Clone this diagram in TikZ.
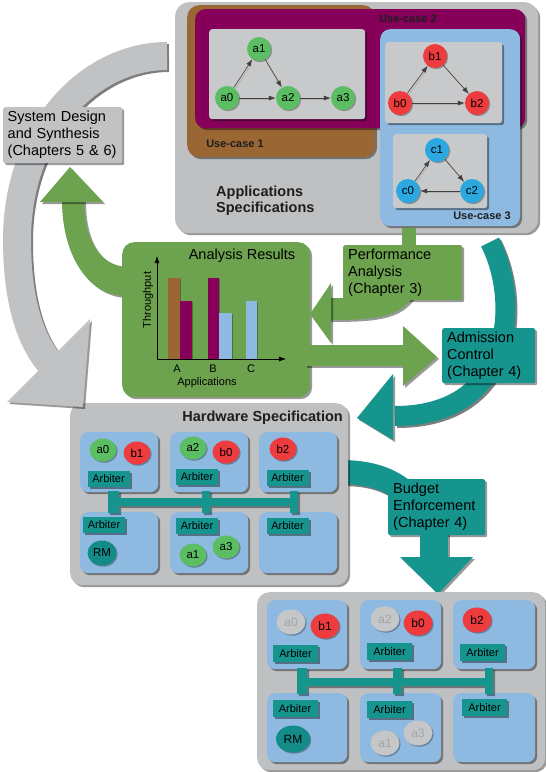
\documentclass[tikz,border=0pt]{standalone}
\usepackage{fontspec}
\setmainfont{Liberation Sans}
\usetikzlibrary{arrows.meta,shadows,shapes.geometric}
\definecolor{appgray}{HTML}{BEC0C2}
\definecolor{innergray}{HTML}{C7C9CB}
\definecolor{shgray}{HTML}{7C7E80}
\definecolor{ucbrown}{HTML}{9A6634}
\definecolor{ucpurple}{HTML}{86005A}
\definecolor{ucblue}{HTML}{8EBAE2}
\definecolor{nodegreen}{HTML}{5CBE62}
\definecolor{nodered}{HTML}{EE3B3E}
\definecolor{nodecyan}{HTML}{2AA8DF}
\definecolor{boxgreen}{HTML}{6DA34E}
\definecolor{boxteal}{HTML}{16958F}
\definecolor{rmteal}{HTML}{138C88}
\definecolor{arcgray}{HTML}{C0C2C4}
\definecolor{nodegrey}{HTML}{C4C6C8}
\definecolor{greytext}{HTML}{A3A5A7}
\definecolor{labtext}{HTML}{1E1E1E}
\newcommand{\gedge}[2]{\draw[edgesh] (#1) -- (#2); \draw[edge] (#1) -- (#2);}
\begin{document}
\begin{tikzpicture}[x=1pt,y=-1pt,
  shd/.style={drop shadow={shadow xshift=2pt,shadow yshift=-2pt,fill=black,opacity=0.4}},
  lshd/.style={drop shadow={shadow xshift=1.2pt,shadow yshift=-1.2pt,fill=black,opacity=0.3}},
  cont/.style={shd, anchor=north west, inner sep=0pt},
  tbox/.style={shd, anchor=north west, inner xsep=5pt, inner ysep=2pt, align=left,
    rounded corners=2pt, font=\fontsize{14.5}{17}\selectfont, text=black},
  gnode/.style={circle, minimum size=24pt, inner sep=0pt, lshd,
    font=\fontsize{11.5}{12}\selectfont},
  hnode/.style={ellipse, minimum width=27pt, minimum height=23pt, inner sep=0pt, lshd,
    font=\fontsize{11.5}{12}\selectfont},
  lnode/.style={ellipse, minimum width=29pt, minimum height=25pt, inner sep=0pt, lshd,
    font=\fontsize{12}{13}\selectfont},
  tile/.style={fill=ucblue, rounded corners=8pt, cont},
  arb/.style={fill=boxteal, minimum width=42pt, minimum height=16pt, inner sep=0pt,
    font=\fontsize{11}{12}\selectfont, shd},
  larb/.style={arb, minimum width=45pt, minimum height=16.5pt},
  uclab/.style={font=\fontsize{11}{12}\selectfont\bfseries, text=labtext},
  chartlab/.style={font=\fontsize{11}{12}\selectfont, inner sep=0pt},
  edge/.style={draw=black!75, line width=0.6pt, -{Latex[length=7pt,width=5pt]}},
  edgesh/.style={draw=black!30, line width=0.8pt, shorten >=3pt,
    transform canvas={shift={(1.4,1.4)}}},
  axis/.style={draw=black, line width=0.6pt, -{Latex[length=7pt,width=5pt]}}
]
\useasboundingbox (0,0) rectangle (546,772);
\fill[white] (0,0) rectangle (546,772);

% ---------------- teal arc (admission control loop)
\draw[line width=20, draw=shgray, transform canvas={shift={(2,2)}}]
  (490,242) .. controls (520,300) and (515,416) .. (395,416);
\draw[line width=20, draw=boxteal]
  (490,242) .. controls (520,300) and (515,416) .. (395,416);
\fill[boxteal, shd] (393,374) -- (357,418) -- (393,440) -- cycle;

% ---------------- applications specification
\node[cont, fill=appgray, rounded corners=14pt, minimum width=363, minimum height=231] (apps) at (175,2) {};
\node[cont, fill=ucbrown, rounded corners=12pt, minimum width=188, minimum height=152] (uc1) at (187,5) {};
\node[cont, fill=ucpurple, rounded corners=10pt, minimum width=330, minimum height=119] (uc2) at (195,9) {};
\node[cont, fill=ucblue, rounded corners=10pt, minimum width=140, minimum height=197] (uc3) at (380,29) {};
\node[cont, fill=innergray, rounded corners=3pt, minimum width=156, minimum height=90] (ga) at (209,29) {};
\node[cont, fill=innergray, rounded corners=3pt, minimum width=117, minimum height=81] (gb) at (385,42) {};
\node[cont, fill=innergray, rounded corners=3pt, minimum width=94, minimum height=74] (gc) at (393,134) {};
\node[uclab] (uc2lab) at (408,19) {Use-case 2};
\node[uclab] (uc1lab) at (235,144) {Use-case 1};
\node[uclab] (uc3lab) at (482,216) {Use-case 3};
\node[anchor=west, align=left, inner sep=0pt, font=\fontsize{14.5}{16}\selectfont\bfseries, text=labtext]
  (appslab) at (216,201) {Applications\\Specifications};

\node[gnode, fill=nodegreen] (a1) at (259,49) {a1};
\node[gnode, fill=nodegreen] (a0) at (227,98) {a0};
\node[gnode, fill=nodegreen] (a2) at (288,98) {a2};
\node[gnode, fill=nodegreen] (a3) at (343,98) {a3};
\node[gnode, fill=nodered] (b1) at (435,56) {b1};
\node[gnode, fill=nodered] (b0) at (400,103) {b0};
\node[gnode, fill=nodered] (b2) at (477,103) {b2};
\node[gnode, fill=nodecyan] (c1) at (437,150) {c1};
\node[gnode, fill=nodecyan] (c0) at (408,191) {c0};
\node[gnode, fill=nodecyan] (c2) at (472,191) {c2};
\gedge{a0}{a1}
\gedge{a1}{a2}
\gedge{a0}{a2}
\gedge{a2}{a3}
\gedge{b0}{b1}
\gedge{b1}{b2}
\gedge{b0}{b2}
\gedge{c0}{c1}
\gedge{c1}{c2}
\gedge{c2}{c0}

% ---------------- green arrow up to system design
\fill[boxgreen, shd] (62,200) .. controls (62,255) and (88,296) .. (126,296)
  -- (126,267) .. controls (100,265) and (84,240) .. (84,200) -- cycle;
\fill[boxgreen, shd] (40,202) -- (70,167) -- (103,202) -- cycle;

% ---------------- analysis results
\node[cont, fill=boxgreen, rounded corners=12pt, minimum width=188, minimum height=155] (anres) at (122,242) {};
\node[font=\fontsize{14.5}{17}\selectfont, inner sep=0pt] (antitle) at (242,256) {Analysis Results};
\fill[ucbrown, lshd] (168,278) rectangle (180,359);
\fill[ucpurple, lshd] (180,301) rectangle (192,359);
\fill[ucpurple, lshd] (208,278) rectangle (219,359);
\fill[ucblue, lshd] (219,313) rectangle (232,359);
\fill[ucblue, lshd] (246,301) rectangle (257,359);
\coordinate (org) at (157,359);
\coordinate (ytip) at (157,256);
\coordinate (xtip) at (286,359);
\draw[axis] (org) -- (ytip);
\draw[axis] (org) -- (xtip);
\node[chartlab] (labA) at (177,369) {A};
\node[chartlab] (labB) at (213,369) {B};
\node[chartlab] (labC) at (251,369) {C};
\node[chartlab] (labApp) at (207,383) {Applications};
\node[chartlab, rotate=90] (labThr) at (148,300) {Throughput};

% ---------------- performance analysis
\fill[boxgreen] (402,228) rectangle (416,250);
\node[tbox, fill=boxgreen, minimum width=119, minimum height=55, text width=109] (perf) at (343,245)
  {Performance\\Analysis\\(Chapter 3)};
\fill[boxgreen, shd] (328,298) -- (412,298) .. controls (398,318) and (372,320) .. (328,320) -- cycle;
\fill[boxgreen, shd] (331,283) -- (310,314) -- (331,343) -- cycle;

% ---------------- green arrow to admission control
\fill[boxgreen, shd] (305,345) rectangle (405,366);
\fill[boxgreen, shd] (403,326) -- (437,357) -- (403,386) -- cycle;
\node[tbox, fill=boxteal, minimum width=93, minimum height=55, text width=83] (adm) at (442,328)
  {Admission\\Control\\(Chapter 4)};

% ---------------- teal band to budget enforcement
\draw[line width=24, draw=shgray, transform canvas={shift={(2,2)}}]
  (340,472) .. controls (368,472) and (388,478) .. (405,492);
\draw[line width=24, draw=boxteal]
  (340,472) .. controls (368,472) and (388,478) .. (405,492);

% ---------------- hardware specification
\node[cont, fill=appgray, rounded corners=12pt, minimum width=278, minimum height=182] (hw) at (70,403) {};
\node[anchor=east, inner sep=0pt, font=\fontsize{14.5}{17}\selectfont\bfseries, text=labtext] (hwlab) at (343,418) {Hardware Specification};
\node[tile, minimum width=78, minimum height=60] (ht11) at (80,432) {};
\node[tile, minimum width=78, minimum height=60] (ht12) at (170,432) {};
\node[tile, minimum width=78, minimum height=60] (ht13) at (259,432) {};
\node[tile, minimum width=78, minimum height=61] (ht21) at (80,512) {};
\node[tile, minimum width=78, minimum height=61] (ht22) at (170,512) {};
\node[tile, minimum width=78, minimum height=61] (ht23) at (259,512) {};
\fill[boxteal, shd] (108,491) rectangle (119,513) (202,491) rectangle (210,513)
  (290,491) rectangle (298,513) (110,498) rectangle (298,506);
\node[hnode, fill=nodegreen] (hwa0) at (103,450) {a0};
\node[hnode, fill=nodered] (hwb1) at (137,453) {b1};
\node[hnode, fill=nodegreen] (hwa2) at (193,448) {a2};
\node[hnode, fill=nodered] (hwb0) at (226,452) {b0};
\node[hnode, fill=nodered] (hwb2) at (283,449) {b2};
\node[hnode, fill=rmteal, minimum width=29pt, minimum height=25pt] (hwrm) at (102,553) {RM};
\node[hnode, fill=nodegreen] (hwa3) at (226,547) {a3};
\node[hnode, fill=nodegreen] (hwa1) at (193,555) {a1};
\node[arb] (harb11) at (108.5,479) {Arbiter};
\node[arb] (harb12) at (197,476.5) {Arbiter};
\node[arb] (harb13) at (287.5,477.5) {Arbiter};
\node[arb] (harb21) at (104,525) {Arbiter};
\node[arb] (harb22) at (197,526) {Arbiter};
\node[arb] (harb23) at (287.5,525.5) {Arbiter};

% ---------------- gray arc (system design loop)
\draw[line width=28, draw=shgray, transform canvas={shift={(2,2)}}]
  (167,56) .. controls (90,56) and (17,130) .. (17,240) .. controls (17,300) and (30,340) .. (50,363);
\draw[line width=28, draw=arcgray]
  (167,56) .. controls (90,56) and (17,130) .. (17,240) .. controls (17,300) and (30,340) .. (50,363);
\fill[arcgray, shd] (90,319) -- (83,407) -- (7,402) -- cycle;
\node[tbox, fill=arcgray, minimum width=119, minimum height=56, text width=110, inner xsep=4.5pt] (sds) at (3,107)
  {System Design\\and Synthesis\\(Chapters 5 \& 6)};

% ---------------- budget enforcement
\node[tbox, fill=boxteal, minimum width=97, minimum height=56, text width=87] (budget) at (388,479)
  {Budget\\Enforcement\\(Chapter 4)};
\fill[boxteal, shd] (420,533) rectangle (448,559);
\fill[boxteal, shd] (400,557) -- (438,594) -- (473,557) -- cycle;

% ---------------- enforced hardware
\node[cont, fill=appgray, rounded corners=12pt, minimum width=288, minimum height=178] (lw) at (257,592) {};
\node[tile, minimum width=80, minimum height=69] (lt11) at (267,600) {};
\node[tile, minimum width=81, minimum height=69] (lt12) at (360,600) {};
\node[tile, minimum width=82, minimum height=69] (lt13) at (453,600) {};
\node[tile, minimum width=80, minimum height=69] (lt21) at (267,693) {};
\node[tile, minimum width=81, minimum height=69] (lt22) at (360,693) {};
\node[tile, minimum width=82, minimum height=69] (lt23) at (453,693) {};
\fill[boxteal, shd] (297,668) rectangle (307,694) (393,668) rectangle (402,694)
  (485,668) rectangle (493,694) (297,678) rectangle (493,686);
\node[lnode, fill=nodegrey, text=greytext] (lwa0) at (291,622) {a0};
\node[lnode, fill=nodered] (lwb1) at (325,626) {b1};
\node[lnode, fill=nodegrey, text=greytext] (lwa2) at (385,619) {a2};
\node[lnode, fill=nodered] (lwb0) at (418,623) {b0};
\node[lnode, fill=nodered] (lwb2) at (477,620) {b2};
\node[lnode, fill=rmteal, minimum width=34pt, minimum height=27pt] (lwrm) at (293,739) {RM};
\node[lnode, fill=nodegrey, text=greytext] (lwa3) at (418,733) {a3};
\node[lnode, fill=nodegrey, text=greytext] (lwa1) at (385,743) {a1};
\node[larb] (larb11) at (295.5,653.5) {Arbiter};
\node[larb] (larb12) at (389.5,651.5) {Arbiter};
\node[larb] (larb13) at (482.5,652.5) {Arbiter};
\node[larb] (larb21) at (295,708.5) {Arbiter};
\node[larb] (larb22) at (389.5,709.5) {Arbiter};
\node[larb] (larb23) at (484.5,707.5) {Arbiter};
\end{tikzpicture}
\end{document}
